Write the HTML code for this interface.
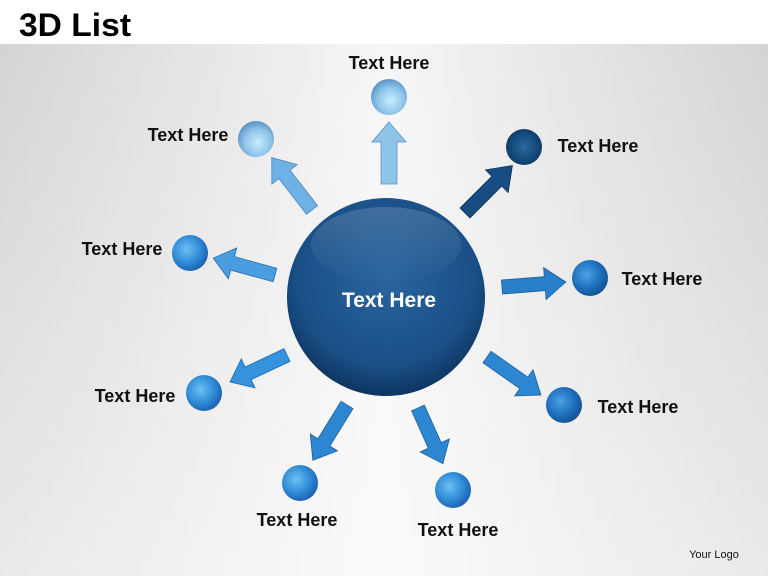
<!DOCTYPE html>
<html><head><style>
html,body{margin:0;padding:0;background:#fff;}
body{width:768px;height:576px;overflow:hidden;position:relative;font-family:"Liberation Sans",sans-serif;}
</style></head><body>
<svg width="768" height="576" viewBox="0 0 768 576" xmlns="http://www.w3.org/2000/svg" style="position:absolute;left:0;top:0">
<defs>
<linearGradient id="bg" x1="0" x2="1" y1="0" y2="0">
<stop offset="0" stop-color="#d4d4d4"/><stop offset="0.5" stop-color="#f6f6f6"/><stop offset="1" stop-color="#d4d4d4"/>
</linearGradient>
<linearGradient id="bgv" x1="0" x2="0" y1="0" y2="1">
<stop offset="0" stop-color="#fff" stop-opacity="0"/><stop offset="1" stop-color="#fff" stop-opacity="0.5"/>
</linearGradient>
<radialGradient id="big" cx="0.5" cy="0.4" r="0.6">
<stop offset="0" stop-color="#2a64a0"/><stop offset="0.75" stop-color="#1a4f86"/><stop offset="1" stop-color="#0d3560"/>
</radialGradient>
<linearGradient id="hl" x1="0" x2="0" y1="0" y2="1">
<stop offset="0" stop-color="#fff" stop-opacity="0.15"/><stop offset="1" stop-color="#fff" stop-opacity="0"/>
</linearGradient>
<radialGradient id="sLight" cx="0.55" cy="0.6" r="0.6">
<stop offset="0" stop-color="#c9ecff"/><stop offset="0.6" stop-color="#8fc5ea"/><stop offset="1" stop-color="#5d93c4"/>
</radialGradient>
<radialGradient id="sMid" cx="0.4" cy="0.4" r="0.65">
<stop offset="0" stop-color="#6cc0f3"/><stop offset="0.6" stop-color="#2f8ad6"/><stop offset="1" stop-color="#1a5ea8"/>
</radialGradient>
<radialGradient id="sMid2" cx="0.4" cy="0.4" r="0.65">
<stop offset="0" stop-color="#4aa3e3"/><stop offset="0.6" stop-color="#1e6fbd"/><stop offset="1" stop-color="#134f8e"/>
</radialGradient>
<radialGradient id="sDark" cx="0.5" cy="0.5" r="0.6">
<stop offset="0" stop-color="#2a6aa3"/><stop offset="0.7" stop-color="#114574"/><stop offset="1" stop-color="#0a2f54"/>
</radialGradient>
</defs>
<rect x="0" y="44" width="768" height="532" fill="url(#bg)"/>
<rect x="0" y="44" width="768" height="532" fill="url(#bgv)"/>
<text x="19" y="36" font-family="Liberation Sans" font-weight="bold" font-size="32" fill="#000" textLength="112" lengthAdjust="spacingAndGlyphs">3D List</text>

<g id="arrows" stroke-width="0.8">
<g transform="translate(389,184) rotate(-90)"><path d="M0,-8 L42,-8 L42,-17 L62,0 L42,17 L42,8 L0,8 Z" fill="#8ec3ea" stroke="#5d93c4"/></g>
<g transform="translate(312,210) rotate(-127.6)"><path d="M0,-7 L45,-7 L45,-16 L66,0 L45,16 L45,7 L0,7 Z" fill="#6fb1e4" stroke="#4a86bd"/></g>
<g transform="translate(465,213) rotate(-45)"><path d="M0,-7 L45,-7 L45,-16 L67,0 L45,16 L45,7 L0,7 Z" fill="#174d82" stroke="#0c2f52"/></g>
<g transform="translate(275,275) rotate(195.3)"><path d="M0,-7 L44,-7 L44,-16 L64,0 L44,16 L44,7 L0,7 Z" fill="#4a9de0" stroke="#2a6ea8"/></g>
<g transform="translate(502,287) rotate(-4.5)"><path d="M0,-7 L43,-7 L43,-16 L64,0 L43,16 L43,7 L0,7 Z" fill="#2a7fcc" stroke="#1b5c98"/></g>
<g transform="translate(287,355) rotate(154.7)"><path d="M0,-7 L43,-7 L43,-16 L63,0 L43,16 L43,7 L0,7 Z" fill="#3592dc" stroke="#1f68a8"/></g>
<g transform="translate(487,357) rotate(35.1)"><path d="M0,-7 L45,-7 L45,-16 L66,0 L45,16 L45,7 L0,7 Z" fill="#2d86d2" stroke="#1b5f9e"/></g>
<g transform="translate(347,405) rotate(121.7)"><path d="M0,-7 L44,-7 L44,-16 L65,0 L44,16 L44,7 L0,7 Z" fill="#2d86d2" stroke="#1b5f9e"/></g>
<g transform="translate(418,408) rotate(65.9)"><path d="M0,-7 L41,-7 L41,-16 L61,0 L41,16 L41,7 L0,7 Z" fill="#2d86d2" stroke="#1b5f9e"/></g>
</g>

<circle cx="386" cy="297" r="99" fill="url(#big)"/>
<ellipse cx="386" cy="245" rx="75" ry="38" fill="url(#hl)"/>

<circle cx="389" cy="97" r="18" fill="url(#sLight)"/>
<circle cx="256" cy="139" r="18" fill="url(#sLight)"/>
<circle cx="524" cy="147" r="18" fill="url(#sDark)"/>
<circle cx="190" cy="253" r="18" fill="url(#sMid)"/>
<circle cx="590" cy="278" r="18" fill="url(#sMid2)"/>
<circle cx="204" cy="393" r="18" fill="url(#sMid)"/>
<circle cx="564" cy="405" r="18" fill="url(#sMid2)"/>
<circle cx="300" cy="483" r="18" fill="url(#sMid)"/>
<circle cx="453" cy="490" r="18" fill="url(#sMid)"/>

<g font-family="Liberation Sans" font-weight="bold" font-size="18" fill="#111" text-anchor="middle">
<text x="389" y="69">Text Here</text>
<text x="188" y="141">Text Here</text>
<text x="598" y="152">Text Here</text>
<text x="122" y="255">Text Here</text>
<text x="662" y="285">Text Here</text>
<text x="135" y="402">Text Here</text>
<text x="638" y="413">Text Here</text>
<text x="297" y="526">Text Here</text>
<text x="458" y="536">Text Here</text>
</g>
<text x="389" y="307" font-family="Liberation Sans" font-weight="bold" font-size="21" fill="#fff" text-anchor="middle">Text Here</text>
<text x="714" y="558" font-family="Liberation Sans" font-size="11" fill="#111" text-anchor="middle">Your Logo</text>
</svg>
</body></html>
